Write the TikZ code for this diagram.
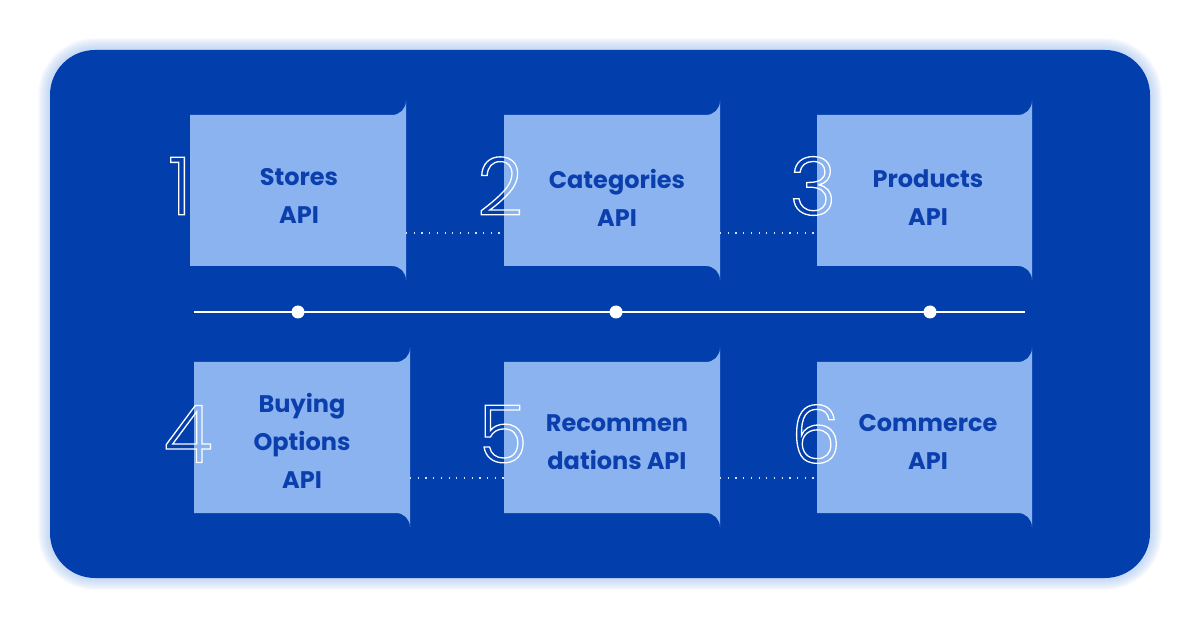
\documentclass[tikz,border=0pt]{standalone}
\usepackage{fontspec}
\setmainfont{Poppins}
\newfontfamily\numfont{Poppins Light}
\usetikzlibrary{calc}
\definecolor{card}{HTML}{023FAD}
\definecolor{boxc}{HTML}{8AB3EF}
\definecolor{txt}{HTML}{0B3FAE}
\definecolor{glow}{HTML}{9CC0F5}
\newcommand{\outl}[1]{\special{pdf:literal direct 1 Tr 1.3 w}#1\special{pdf:literal direct 0 Tr}}
\tikzset{
  x=1pt,y=-1pt,
  box/.style={fill=boxc,draw=none},
  lbl/.style={text=txt,font=\bfseries\fontsize{24}{38}\selectfont,align=center},
  num/.style={text=white,font=\numfont\fontsize{80}{80}\selectfont,inner sep=0pt},
  dots/.style={white!85!card,line width=1.2pt,dash pattern=on 1.2pt off 6.5pt},
  dotn/.style={circle,fill=white,inner sep=0pt,minimum size=13pt}
}
\newcommand{\rbox}[5]{% name x1 y1 x2 y2
  \fill[box] (#2,#3) -- (#4-14,#3) arc[start angle=90,end angle=0,radius=14] -- (#4,#5+14) arc[start angle=0,end angle=-90,radius=14] -- (#2,#5) -- cycle;
  \coordinate (#1l) at (#2,#5-33); \coordinate (#1r) at (#4,#5-33);}
\begin{document}
\begin{tikzpicture}
\useasboundingbox (0,0) rectangle (1200,628);
\fill[white] (0,0) rectangle (1200,628);
\foreach \i in {1,...,12}{
  \fill[glow,opacity=0.06,rounded corners=45+\i] (50-\i,50-\i) rectangle (1150+\i,578+\i);}
\fill[card,rounded corners=45] (50,50) rectangle (1150,578);
\rbox{a}{190}{115}{406}{266}
\rbox{b}{504}{115}{720}{266}
\rbox{c}{817}{115}{1032}{266}
\rbox{d}{194}{362}{410}{513}
\rbox{e}{504}{362}{720}{513}
\rbox{f}{817}{362}{1032}{513}
\draw[dots] (406,233) -- (504,233);
\draw[dots] (720,233) -- (817,233);
\draw[dots] (410,478) -- (504,478);
\draw[dots] (720,478) -- (817,478);
\coordinate (ls) at (194,312); \coordinate (le) at (1025,312);
\draw[white,line width=2.2pt] (ls) -- (le);
\node[dotn] (p1) at (298,312) {};
\node[dotn] (p2) at (616,312) {};
\node[dotn] (p3) at (930,312) {};
\node[lbl] (ta) at (299,196) {Stores\\API};
\node[lbl] (tb) at (617,198) {Categories\\API};
\node[lbl] (tc) at (928,198) {Products\\API};
\node[lbl] (td) at (302,441) {Buying\\Options\\API};
\node[lbl] (te) at (617,442) {Recommen\\dations API};
\node[lbl] (tf) at (928,442) {Commerce\\API};
\node[num] (n1) at (180,186) {\outl{1}};
\node[num] (n2) at (500,186) {\outl{2}};
\node[num] (n3) at (813,186) {\outl{3}};
\node[num] (n4) at (188,434) {\outl{4}};
\node[num] (n5) at (503,434) {\outl{5}};
\node[num] (n6) at (816,434) {\outl{6}};
\end{tikzpicture}
\end{document}
